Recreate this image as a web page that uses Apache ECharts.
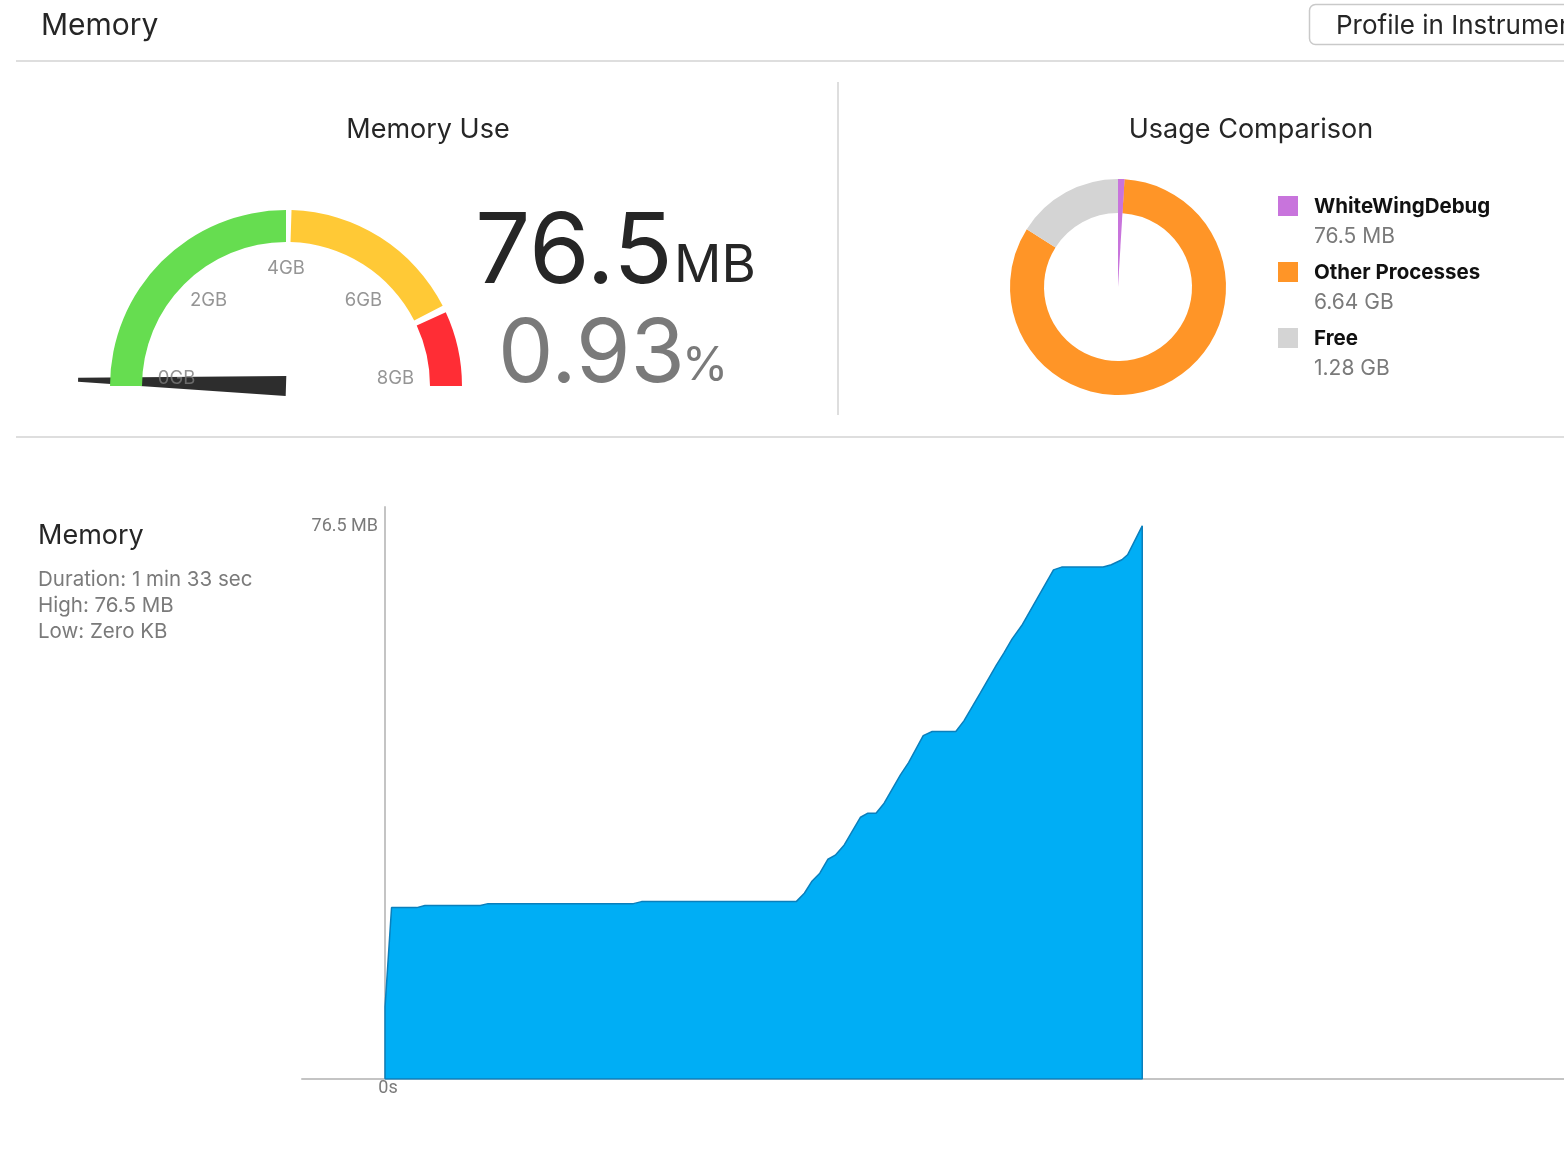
<!DOCTYPE html>
<html>
<head>
<meta charset="utf-8">
<title>Memory</title>
<style>
	html, body { margin: 0; padding: 0; background: #fff; overflow: hidden; }
	#main { width: 1564px; height: 1176px; }
</style>
<script src="https://cdn.jsdelivr.net/npm/echarts@6/dist/echarts.min.js"></script>
</head>
<body>
<div id="main"></div>
<script>
	//gauge bands in GB, the two thin ones are the white gaps
	var gaugeBands = [4.0, 0.08, 2.716, 0.102, 1.102];
	var gaugeColors = ['#66dd50', 'transparent', '#ffc936', 'transparent', '#ff2d35'];
	var gaugeTicks = [0, 2, 4, 6, 8];
	var gaugeUsedGb = 0.0765;

	//usage comparison, in GB
	var usageNames = ['WhiteWingDebug', 'Other Processes', 'Free'];
	var usageValues = [0.0765, 6.64, 1.28];
	var usageLabels = ['76.5 MB', '6.64 GB', '1.28 GB'];

	//memory over time: seconds, MB
	var timeSec = [0, 0, 0.8, 3.9, 4.9, 11.7, 12.65, 30.5, 31.5, 50.5, 51.5, 52.4, 53.4, 54.4, 55.3, 56.4, 58.4, 59.3, 60.3, 61.3, 63.3, 64.3, 66.1, 67.2, 70.1, 71.1, 73.1, 75.1, 76, 77, 78.2, 82.1, 83.1, 88.2, 89.2, 90.5, 91.2, 93, 93, 0];
	var memoryMb = [0, 10, 23.7, 23.7, 24, 24, 24.25, 24.25, 24.53, 24.53, 25.69, 27.3, 28.46, 30.39, 30.95, 32.37, 36.2, 36.76, 36.76, 38.14, 42.06, 43.76, 47.49, 48.05, 48.05, 49.53, 53.36, 57.27, 58.89, 60.83, 62.71, 70.41, 70.79, 70.79, 71.11, 71.8, 72.49, 76.5, 0, 0];
	var statLines = ['Duration: 1 min 33 sec', 'High: 76.5 MB', 'Low: Zero KB'];

	var FONT = 'Inter, "Noto Sans", sans-serif';
	var DARK = '#262626', GREY = '#7a7a7a', RULE = '#dedede';

	var text = function(str, x, y, size, color, extra){
		return {
			type: 'text', x: x, y: y, silent: true,
			style: Object.assign({text: str, font: size + 'px ' + FONT, fill: color, verticalAlign: 'middle'}, extra || {})
		};
	};
	var rule = function(x1, y1, x2, y2){
		return {type: 'line', silent: true, shape: {x1: x1, y1: y1, x2: x2, y2: y2}, style: {stroke: RULE, lineWidth: 2}};
	};

	var chrome = [
		rule(16, 61, 1564, 61),
		rule(16, 437, 1564, 437),
		rule(838, 82, 838, 415),
		{type: 'rect', silent: true, shape: {x: 1309.5, y: 4.5, width: 300, height: 40, r: 6}, style: {fill: '#fff', stroke: '#c9c9c9', lineWidth: 1.5}},
		text('Memory', 41, 26, 30, DARK),
		text('Profile in Instruments', 1336, 26, 26, DARK),
		text('Memory Use', 428, 130, 27, DARK, {align: 'center'}),
		text('Usage Comparison', 1251, 130, 27, DARK, {align: 'center'}),
		text('76.5', 475, 254, 98, DARK),
		text('MB', 674, 266, 52.5, DARK),
		text('0.93', 498, 356, 88, GREY),
		text('%', 682, 366, 47, GREY),
		text('Memory', 38, 536, 27, DARK)
	];
	statLines.forEach(function(line, i){
		chrome.push(text(line, 38, 580 + i * 26, 20.5, GREY));
	});

	var legendText = function(name){
		return '{s| }\n{n|' + name + '}\n{v|' + usageLabels[usageNames.indexOf(name)] + '}';
	};

	var option = {
		animation: false,
		backgroundColor: '#fff',
		textStyle: {fontFamily: FONT},
		graphic: chrome,
		legend: {
			data: usageNames,
			orient: 'vertical',
			left: 1278,
			top: 161,
			padding: 0,
			icon: 'rect',
			itemWidth: 20,
			itemHeight: 20,
			itemGap: -25,
			selectedMode: false,
			formatter: legendText,
			textStyle: {
				padding: [0, 0, 0, 11],
				rich: {
					s: {height: 30, lineHeight: 30, fontSize: 10},
					n: {height: 30, lineHeight: 30, fontSize: 20.5, fontWeight: 'bold', color: '#111', fontFamily: FONT, padding: [2, 0, 0, 0]},
					v: {height: 30, lineHeight: 30, fontSize: 21, color: GREY, fontFamily: FONT, padding: [2, 0, 0, 0]}
				}
			}
		},
		polar: {center: [286, 378], radius: 109.5},
		angleAxis: {type: 'value', min: 0, max: 16, startAngle: 180, show: false},
		radiusAxis: {type: 'value', min: 0, max: 1, show: false},
		grid: {left: 302, right: 0, top: 507, bottom: 97},
		xAxis: {
			type: 'value',
			min: -10.2,
			max: 144.8,
			splitLine: {show: false},
			axisTick: {show: false},
			axisLine: {onZero: false, lineStyle: {color: '#c4c4c4', width: 2}},
			axisLabel: {customValues: [0], formatter: '{value}s', color: GREY, fontSize: 18, margin: 0, padding: [0, 0, 0, 6], fontFamily: 'Roboto, sans-serif'}
		},
		yAxis: {
			type: 'value',
			min: 0,
			max: 79.1,
			offset: -83,
			splitLine: {show: false},
			axisTick: {show: false},
			axisLine: {show: true, onZero: false, lineStyle: {color: '#c4c4c4', width: 2}},
			axisLabel: {customValues: [76.5], formatter: '{value} MB', color: GREY, fontSize: 18, margin: 7, verticalAlign: 'top', lineHeight: 2, fontFamily: 'Roboto, sans-serif'}
		},
		series: [
			{
				type: 'pie',
				silent: true,
				center: [286, 386],
				radius: [144, 176],
				startAngle: 180,
				endAngle: 0,
				label: {show: false},
				labelLine: {show: false},
				color: gaugeColors,
				data: gaugeBands.map(function(v){ return {value: v}; })
			},
			{
				type: 'gauge',
				silent: true,
				center: [286, 386],
				radius: 208,
				min: 0,
				max: 8,
				startAngle: 180,
				endAngle: 0,
				axisLine: {show: false},
				axisTick: {show: false},
				splitLine: {show: false},
				axisLabel: {show: false},
				anchor: {show: false},
				title: {show: false},
				detail: {show: false},
				pointer: {icon: 'path://M8 0L12 0L20 100L0 100Z', length: 208, width: 20, offsetCenter: [0, 0], itemStyle: {color: 'rgba(36,36,36,0.96)'}},
				data: [{value: gaugeUsedGb}]
			},
			{
				type: 'scatter',
				coordinateSystem: 'polar',
				silent: true,
				symbolSize: 0,
				z: 5,
				label: {
					show: true,
					position: 'inside',
					formatter: function(p){ return p.value[1] + 'GB'; },
					color: GREY,
					fontSize: 18.5
				},
				data: gaugeTicks.map(function(gb){ return [1, gb]; })
			},
			{
				type: 'pie',
				silent: true,
				center: [1118, 287],
				radius: [74, 108],
				startAngle: 90,
				label: {show: false},
				labelLine: {show: false},
				color: ['#c874dc', '#ff9527', '#d4d4d4'],
				data: usageNames.map(function(name, i){ return {name: name, value: usageValues[i]}; })
			},
			{
				//the app's own slice runs in to the centre
				type: 'pie',
				silent: true,
				center: [1118, 287],
				radius: [0, 108],
				startAngle: 90,
				label: {show: false},
				labelLine: {show: false},
				data: usageValues.map(function(v, i){
					return {value: v, itemStyle: {color: i == 0 ? '#c874dc' : 'transparent'}};
				})
			},
			{
				type: 'line',
				silent: true,
				symbol: 'none',
				z: 3,
				lineStyle: {color: '#0a7fbc', width: 1.5},
				areaStyle: {color: '#00aef5', opacity: 1},
				data: timeSec.map(function(t, i){ return [t, memoryMb[i]]; })
			}
		]
	};

	var chart = echarts.init(document.getElementById('main'));
	chart.setOption(option);
</script>
</body>
</html>
